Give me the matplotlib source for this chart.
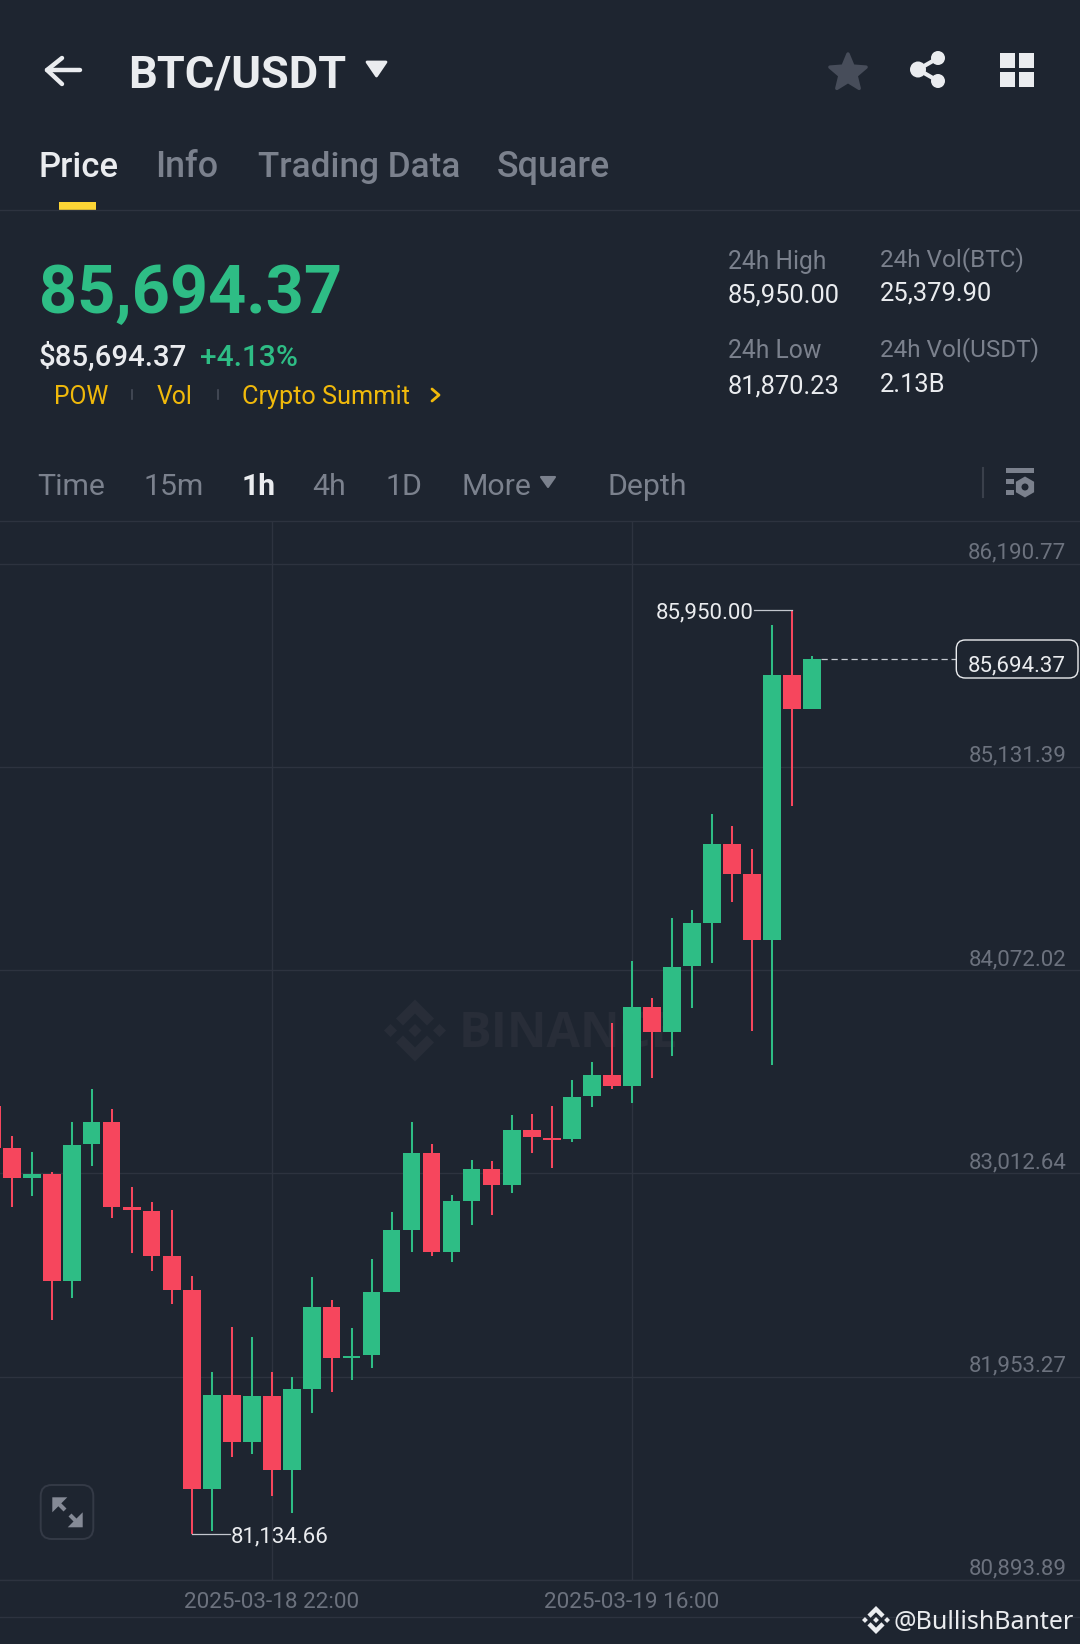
import numpy as np
import matplotlib
matplotlib.use('Agg')
import matplotlib.pyplot as plt
from matplotlib.patches import Polygon, Circle, Rectangle, FancyBboxPatch

plt.rcParams['font.family'] = ['Roboto', 'DejaVu Sans']

# hourly candles, oldest first
open_px = np.array([
    83365.8, 83146.8, 82990.1, 83010.2, 82449.6, 83164.9, 83279.4, 82839.4, 82817.3, 82580.2, 82403.4,
    81366.7, 81854.9, 81609.8, 81850.9, 81467.1, 81889.1, 82317.0, 82049.8, 82063.9, 82395.4, 82716.9,
    83118.7, 82600.3, 82869.6, 83036.3, 82953.9, 83239.7, 83198.0, 83191.1, 83413.6, 83526.6, 83469.3,
    83879.6, 83748.8, 84092.2, 84319.8, 84731.0, 84571.3, 84232.0, 85611.3, 85433.7])
high_px = np.array([
    83446.0, 83205.1, 83126.7, 83020.3, 83279.4, 83452.2, 83347.8, 82941.9, 82861.5, 82821.3, 82477.8,
    81977.5, 82212.6, 82160.3, 81975.5, 81949.3, 82473.8, 82351.2, 82206.5, 82564.2, 82809.3, 83279.4,
    83166.9, 82897.7, 83082.5, 83076.5, 83319.6, 83321.5, 83363.2, 83498.8, 83594.4, 83797.9, 84117.8,
    83926.5, 84343.8, 84387.6, 84886.7, 84824.8, 84703.1, 85870.8, 85950.0, 85711.1])
low_px = np.array([
    83084.0, 82839.4, 82895.7, 82246.7, 82361.2, 83050.4, 82779.1, 82596.3, 82501.9, 82331.1, 81134.66,
    81149.7, 81535.5, 81547.5, 81332.5, 81244.1, 81762.5, 81871.0, 81933.3, 81999.6, 82395.4, 82604.4,
    82582.3, 82548.1, 82741.0, 82793.2, 82911.8, 83118.1, 83039.8, 83178.9, 83361.4, 83450.1, 83380.6,
    83509.2, 83623.1, 83872.6, 84110.2, 84429.6, 83752.9, 83579.2, 84926.6, 85433.7])
close_px = np.array([
    83144.8, 82990.1, 83010.2, 82449.6, 83162.9, 83281.4, 82839.4, 82819.3, 82582.3, 82405.4, 81366.7,
    81854.9, 81609.8, 81850.9, 81467.1, 81889.1, 82317.0, 82049.8, 82061.9, 82395.4, 82714.9, 83118.7,
    82600.3, 82869.6, 83036.3, 82953.9, 83239.3, 83201.5, 83187.6, 83411.9, 83526.6, 83469.3, 83879.6,
    83750.9, 84090.2, 84317.8, 84731.0, 84573.3, 84232.0, 85611.3, 85433.7, 85694.37])

y_ticks = [86190.77, 85131.39, 84072.02, 83012.64, 81953.27, 80893.89]
x_tick_idx = [14, 32]
x_tick_labels = ['2025-03-18 22:00', '2025-03-19 16:00']

last_price = 85694.37
max_price = 85950.00
min_price = 81134.66

BG = '#1E2530'
GRID = '#2D333F'
GREEN = '#2EBD85'
RED = '#F6465D'
YELLOW = '#F0B90B'
WHITE = '#EAECEF'
GREY = '#7B818D'
AXIS_GREY = '#6C727E'

W, H = 1080, 1644
fig = plt.figure(figsize=(W / 100, H / 100), dpi=100, facecolor=BG)

# chart area, price scale is 203.1 px per 1059.375 and candles are 20 px apart
chart_top, chart_bottom = 521.0, 1579.7
ax = fig.add_axes([0, 1 - chart_bottom / H, 1, (chart_bottom - chart_top) / H], facecolor=BG)
ax.set_xlim(0.415, 54.415)
ax.set_ylim(80893.89, 86414.6)
for s in ['left', 'right']:
    ax.spines[s].set_visible(False)
for s in ['top', 'bottom']:
    ax.spines[s].set_color(GRID)
    ax.spines[s].set_linewidth(1.0)
ax.set_yticks(y_ticks)
ax.set_yticklabels([])
ax.set_xticks(x_tick_idx)
ax.set_xticklabels(x_tick_labels, color=AXIS_GREY, fontsize=16.2)
ax.tick_params(length=0)
ax.tick_params(axis='x', pad=9)
ax.grid(True, color=GRID, linewidth=1.0)
ax.set_axisbelow(True)

for v in y_ticks:
    ax.annotate(f'{v:,.2f}', xy=(1, v), xycoords=ax.get_yaxis_transform(), xytext=(-9.9, 3.8),
                textcoords='offset points', ha='right', va='baseline', color=AXIS_GREY, fontsize=16)

# watermark sits under the candles
wm = '#282D38'
ax_px = fig.add_axes([0, 0, 1, 1], zorder=-1)
ax.set_zorder(1)
ax_px.set_xlim(0, W)
ax_px.set_ylim(H, 0)
ax_px.axis('off')

def diamond_logo(a, cx, cy, r, color, z=3):
    # the four-corner binance mark, r is the half width
    k = r / 31.0
    small = [(0, -6.5), (6.5, 0), (0, 6.5), (-6.5, 0)]
    for dx, dy in [(0, 0), (-24.5, 0), (24.5, 0)]:
        a.add_patch(Polygon([(cx + (dx + p[0]) * k, cy + (dy + p[1]) * k) for p in small], color=color, lw=0, zorder=z))
    top = [(0, -31), (19, -12), (12, -5), (0, -17), (-12, -5), (-19, -12)]
    a.add_patch(Polygon([(cx + p[0] * k, cy + p[1] * k) for p in top], color=color, lw=0, zorder=z))
    a.add_patch(Polygon([(cx + p[0] * k, cy - p[1] * k) for p in top], color=color, lw=0, zorder=z))

ax.patch.set_alpha(0)
diamond_logo(ax_px, 415, 1030.5, 31, wm)
ax_px.text(459, 1047, 'BINANCE', color=wm, fontsize=35, fontweight='bold', family='Open Sans', va='baseline')

# candles
idx = np.arange(len(open_px))
colors = [GREEN if c >= o else RED for o, c in zip(open_px, close_px)]
ax.vlines(idx, low_px, high_px, colors=colors, linewidth=1.45, zorder=3)
ax.bar(idx, np.abs(close_px - open_px), bottom=np.minimum(open_px, close_px), width=0.88, color=colors, zorder=4)

# high / low / last callouts
hi_i = int(np.argmax(high_px))
lo_i = int(np.argmin(low_px))
ax.plot([hi_i - 1.9, hi_i], [max_price, max_price], color='#C3C7CE', lw=0.9, zorder=5)
ax.annotate(f'{max_price:,.2f}', xy=(hi_i - 1.9, max_price), xytext=(0, -6.3), textcoords='offset points',
            ha='right', va='baseline', color=WHITE, fontsize=16, zorder=6)
ax.plot([lo_i, lo_i + 1.9], [min_price, min_price], color='#C3C7CE', lw=0.9, zorder=5)
ax.annotate(f'{min_price:,.2f}', xy=(lo_i + 1.95, min_price), xytext=(0, -6.3), textcoords='offset points',
            ha='left', va='baseline', color=WHITE, fontsize=16, zorder=6)
ax.plot([len(open_px) - 0.55, 48.2], [last_price, last_price], color='#C3C7CE', lw=0.9, dashes=(5, 3), zorder=5)

# everything else is app chrome, drawn in pixel coordinates
ui = fig.add_axes([0, 0, 1, 1], zorder=5)
ui.set_xlim(0, W)
ui.set_ylim(H, 0)
ui.axis('off')

ui.add_patch(FancyBboxPatch((960.3, 644), 113.7, 30, boxstyle='round,pad=4,rounding_size=9', fc=BG, ec=WHITE, lw=1.0))
ui.text(1066, 671, f'{last_price:,.2f}', color=WHITE, fontsize=16, ha='right', va='baseline')

def label(x, y, s, color=WHITE, size=18, weight='normal', ha='left'):
    ui.text(x, y, s, color=color, fontsize=size, fontweight=weight, ha=ha, va='baseline')

def stroke(pts, color=WHITE, lw=2.6):
    xs, ys = zip(*pts)
    ui.plot(xs, ys, color=color, lw=lw, solid_capstyle='round', solid_joinstyle='round')

# header row
stroke([(47, 70), (80, 70)], lw=3.2)
stroke([(62, 58), (47, 70), (62, 84)], lw=3.2)
label(128, 87, 'BTC/USDT', size=32.6, weight='bold')
ui.add_patch(Polygon([(367, 62), (386, 62), (376.5, 76)], fc=WHITE, ec=WHITE, lw=2, joinstyle='round'))

star = [(848 + (19 if i % 2 == 0 else 8.5) * np.sin(i * np.pi / 5), 73 - (19 if i % 2 == 0 else 8.5) * np.cos(i * np.pi / 5)) for i in range(10)]
ui.add_patch(Polygon(star, fc='#474D5A', ec='#474D5A', lw=2.5, joinstyle='round'))
stroke([(938, 58), (918, 69.5), (938, 81)], lw=3)
ui.add_patch(Circle((938, 58), 7, fc=WHITE, lw=0))
ui.add_patch(Circle((918, 69.5), 8, fc=WHITE, lw=0))
ui.add_patch(Circle((938, 81), 7, fc=WHITE, lw=0))
for x0 in (1000, 1019):
    for y0 in (52.7, 71.7):
        ui.add_patch(Rectangle((x0, y0), 15, 15, fc=WHITE, lw=0))

# tabs
label(38.5, 177, 'Price', size=25, weight='medium')
label(155, 177, 'Info', color=GREY, size=25.8, weight='medium')
label(258, 177, 'Trading Data', color=GREY, size=25.3, weight='medium')
label(497, 177, 'Square', color=GREY, size=25.8, weight='medium')
ui.add_patch(Rectangle((59, 202), 37, 8, fc='#FCD535', lw=0))
ui.plot([0, W], [210.5, 210.5], color=GRID, lw=1.0)

# price block
label(38.5, 313, '85,694.37', color=GREEN, size=48, weight='bold')
label(38, 365.5, '$85,694.37', size=21.2, weight='medium')
label(200, 365.5, '+4.13%', color=GREEN, size=21.5, weight='medium')
label(53.5, 403.5, 'POW', color=YELLOW, size=17.8)
label(157, 403.5, 'Vol', color=YELLOW, size=17.8)
label(242, 403.5, 'Crypto Summit', color=YELLOW, size=18.2)
stroke([(432, 389), (439, 395), (432, 401)], color=YELLOW, lw=2)
for x in (132, 218):
    ui.plot([x, x], [390, 399], color='#474D5A', lw=1.2)

# 24h stats
label(728, 269, '24h High', color=GREY, size=17.7)
label(727.5, 302.5, '85,950.00', size=18.4)
label(880, 266, '24h Vol(BTC)', color=GREY, size=17.5)
label(879.5, 301, '25,379.90', size=18.4)
label(728, 358.5, '24h Low', color=GREY, size=17.7)
label(727.5, 393, '81,870.23', size=18.4)
label(880, 356, '24h Vol(USDT)', color=GREY, size=17.5)
label(879.5, 391.5, '2.13B', size=18.4)

# interval row
for x, s in [(37.5, 'Time'), (144, '15m'), (312.5, '4h'), (385.5, '1D'), (461, 'More'), (607.5, 'Depth')]:
    label(x, 494.7, s, color=GREY, size=21.8)
label(241.5, 494.7, '1h', size=21.8, weight='bold')
ui.add_patch(Polygon([(541, 477), (555, 477), (548, 487)], fc=GREY, ec=GREY, lw=1.5, joinstyle='round'))
ui.plot([983, 983], [468, 497], color='#3A404B', lw=1.5)
ui.add_patch(Rectangle((1006, 468), 28, 5, fc=GREY, lw=0))
ui.add_patch(Rectangle((1006, 479), 8, 4.5, fc=GREY, lw=0))
ui.add_patch(Rectangle((1006, 490), 8, 4.5, fc=GREY, lw=0))
hexagon = [(1025 + 10.5 * np.sin(i * np.pi / 3), 487 + 10.5 * np.cos(i * np.pi / 3)) for i in range(6)]
ui.add_patch(Polygon(hexagon, fc=GREY, lw=0))
ui.add_patch(Circle((1025, 487), 3.5, fc=BG, lw=0))

# expand button
ui.add_patch(FancyBboxPatch((50.7, 1495), 32.6, 34, boxstyle='round,pad=10,rounding_size=11', fc='none', ec='#343A46', lw=1.4))
ui.add_patch(Polygon([(52.3, 1497.3), (67.3, 1497.3), (52.3, 1512.3)], fc='#858A96', lw=0))
ui.add_patch(Polygon([(82.7, 1527.3), (67.7, 1527.3), (82.7, 1512.3)], fc='#858A96', lw=0))
ui.plot([57, 65], [1502, 1510], color='#858A96', lw=3, solid_capstyle='butt')
ui.plot([70, 78], [1515, 1523], color='#858A96', lw=3, solid_capstyle='butt')

# footer
ui.plot([0, W], [1616.6, 1616.6], color=GRID, lw=1.0)
diamond_logo(ui, 876, 1620, 14, WHITE, z=6)
ui.text(893.5, 1629, '@BullishBanter', color=WHITE, fontsize=18, family='Noto Sans', va='baseline', zorder=6)

fig.savefig('out.png', dpi=100, facecolor=BG)
